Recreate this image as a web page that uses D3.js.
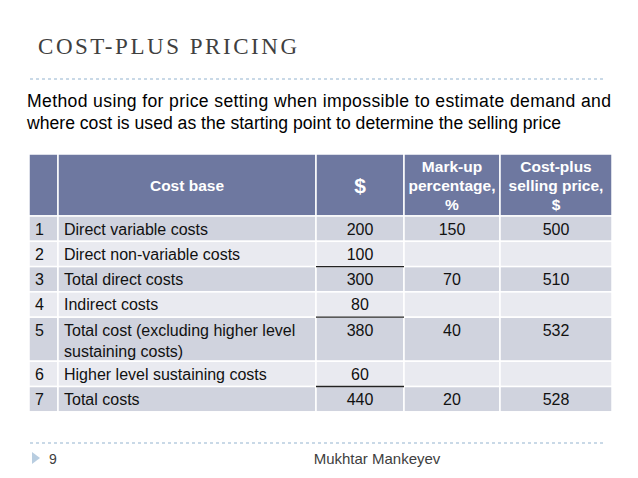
<!DOCTYPE html>
<html><head><meta charset="utf-8">
<script src="https://cdn.jsdelivr.net/npm/d3@7"></script>
<style>body{margin:0;background:#fff}</style>
</head><body>
<svg id="slide" width="638" height="478"></svg>
<script>
const rowNums = ["1","2","3","4","5","6","7"];
const costBase = ["Direct variable costs","Direct non-variable costs","Total direct costs","Indirect costs",
  ["Total cost (excluding higher level","sustaining costs)"],"Higher level sustaining costs","Total costs"];
const costs = ["200","100","300","80","380","60","440"];
const markups = ["150","","70","","40","","20"];
const prices = ["500","","510","","532","","528"];
const underlined = [false,true,false,true,false,true,false];
const headers = ["", "Cost base", "$", ["Mark-up","percentage,","%"], ["Cost-plus","selling price,","$"]];

const svg = d3.select("#slide");
const FONT = "Liberation Sans, Arial, sans-serif";

// title + rules
svg.append("text").attr("x", 38).attr("y", 54).attr("font-family", "Liberation Serif, Times New Roman, serif")
   .attr("font-size", 23).attr("fill", "#404040").attr("textLength", 259).attr("lengthAdjust", "spacing")
   .text("COST-PLUS PRICING");
[79, 443].forEach(y => svg.append("line").attr("x1", 30).attr("x2", 606).attr("y1", y).attr("y2", y)
   .attr("stroke", "#b8cde0").attr("stroke-width", 1.5).attr("stroke-dasharray", "3,3"));

const intro = ["Method using for price setting when impossible to estimate demand and",
               "where cost is used as the starting point to determine the selling price"];
svg.append("text").attr("x", 27).attr("y", 107).attr("font-family", FONT).attr("font-size", 17.6)
   .attr("fill", "#000").attr("textLength", 584).attr("lengthAdjust", "spacing").text(intro[0]);
svg.append("text").attr("x", 27).attr("y", 129).attr("font-family", FONT).attr("font-size", 17.6)
   .attr("fill", "#000").text(intro[1]);

// table geometry
const colEdges = [29, 58, 316, 404, 500, 612];
const headTop = 154, headBottom = 216;
const lineCounts = costBase.map(d => Array.isArray(d) ? 2 : 1);
const rowBounds = [headBottom];
lineCounts.forEach(n => rowBounds.push(rowBounds[rowBounds.length - 1] + (n === 2 ? 44 : 25.3)));

const g = svg.append("g").attr("font-family", FONT);

// header
headers.forEach((h, c) => {
  g.append("rect").attr("x", colEdges[c]).attr("y", headTop).attr("width", colEdges[c+1]-colEdges[c])
   .attr("height", headBottom-headTop).attr("fill", "#6e78a0").attr("stroke", "#fff").attr("stroke-width", 1.5);
  const lines = Array.isArray(h) ? h : [h];
  const cx = (colEdges[c] + colEdges[c+1]) / 2;
  const fs = c === 2 ? 21 : 15.5;
  lines.forEach((t, i) => g.append("text").attr("x", cx)
    .attr("y", (headTop + headBottom) / 2 + (i - (lines.length - 1) / 2) * 19 + fs * 0.36)
    .attr("text-anchor", "middle").attr("font-weight", "bold").attr("font-size", fs).attr("fill", "#fff").text(t));
});

// body rows
rowNums.forEach((n, r) => {
  const top = rowBounds[r], bot = rowBounds[r+1];
  const fill = r % 2 === 0 ? "#d0d3de" : "#e9eaf0";
  const vals = [n, costBase[r], costs[r], markups[r], prices[r]];
  vals.forEach((v, c) => {
    g.append("rect").attr("x", colEdges[c]).attr("y", top).attr("width", colEdges[c+1]-colEdges[c])
     .attr("height", bot - top).attr("fill", fill).attr("stroke", "#fff").attr("stroke-width", 1.5);
    const lines = Array.isArray(v) ? v : [v];
    const left = c < 2;
    lines.forEach((t, i) => g.append("text")
      .attr("x", left ? colEdges[c] + 6 : (colEdges[c] + colEdges[c+1]) / 2)
      .attr("y", top + 18.5 + i * 21)
      .attr("text-anchor", left ? "start" : "middle").attr("font-size", 16).attr("fill", "#111").text(t));
  });
});
rowNums.forEach((n, r) => {
  if (underlined[r]) g.append("line").attr("x1", colEdges[2]).attr("x2", colEdges[3])
     .attr("y1", rowBounds[r+1]).attr("y2", rowBounds[r+1]).attr("stroke", "#222").attr("stroke-width", 1.3);
});

// footer
svg.append("path").attr("d", "M32,452 L40,458 L32,464 Z").attr("fill", "#b8cde0");
svg.append("text").attr("x", 49).attr("y", 464).attr("font-family", FONT).attr("font-size", 14).attr("fill", "#404040").text("9");
svg.append("text").attr("x", 377).attr("y", 464).attr("text-anchor", "middle").attr("font-family", FONT)
   .attr("font-size", 15).attr("fill", "#404040").text("Mukhtar Mankeyev");
</script>
</body></html>
